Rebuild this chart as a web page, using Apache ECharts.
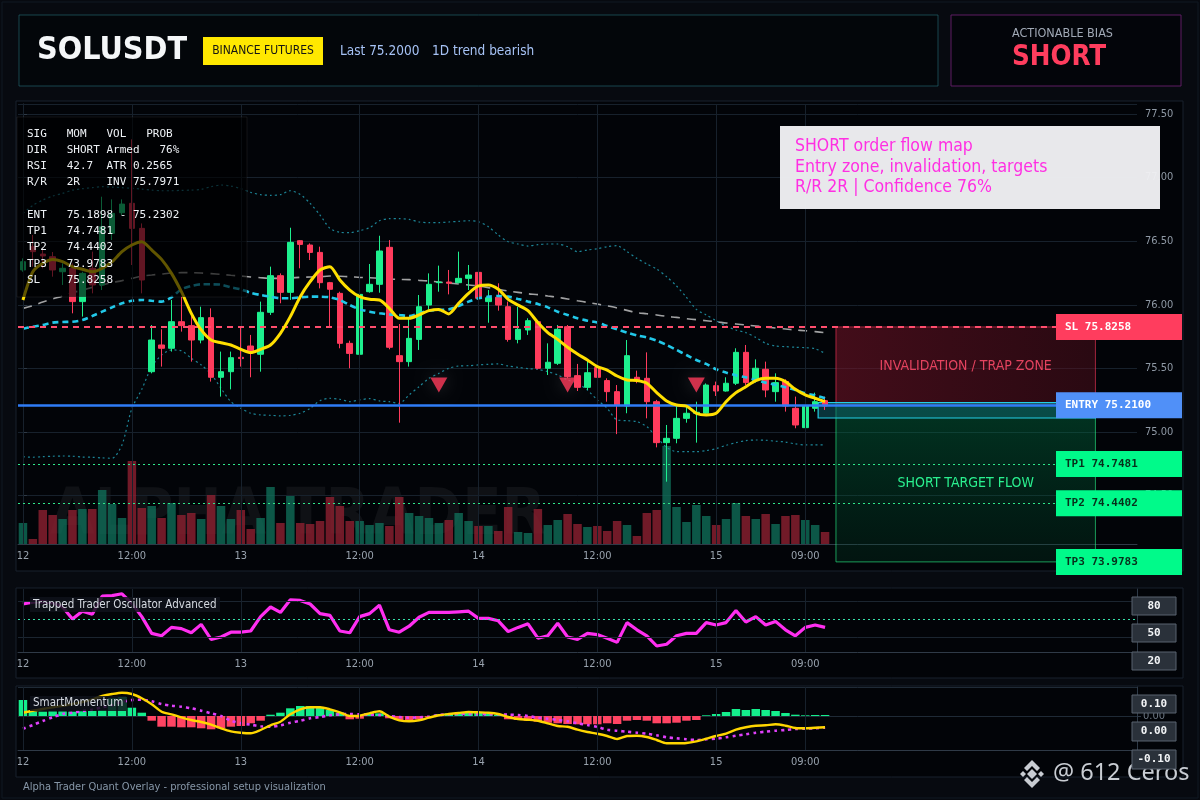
<!DOCTYPE html>
<html>
<head>
<meta charset="utf-8">
<title>SOLUSDT</title>
<script src="https://cdn.jsdelivr.net/npm/echarts@6/dist/echarts.min.js"></script>
<style>
    html, body { margin: 0; padding: 0; background: #070a10; }
    #main { width: 1200px; height: 800px; }
</style>
</head>
<body>
<div id="main"></div>
<script>
// ---- data (1h bars, SOLUSDT) ----
var slotCount = 113;   // visible bar slots on the time axis
var tickIdx  = [0, 11, 22, 34, 46, 58, 70, 79];
var tickText = ['12', '12:00', '13', '12:00', '14', '12:00', '15', '09:00'];

// [open, close, low, high]
var candles = [
    [76.274,76.339,76.260,76.365],[76.457,76.418,76.300,76.549],[76.399,76.384,76.287,76.444],[76.378,76.274,76.221,76.415],
    [76.260,76.287,76.156,76.326],[76.287,76.025,75.933,76.326],[76.025,76.247,75.907,76.260],[76.287,76.156,76.090,76.418],
    [76.156,76.614,76.116,76.850],[76.562,76.719,76.509,76.829],[76.724,76.792,76.706,76.829],[76.798,76.601,76.313,77.301],
    [76.601,76.195,76.090,76.640],[75.474,75.723,75.461,75.841],[75.684,75.658,75.514,75.807],[75.658,75.867,75.632,76.038],
    [75.867,75.836,75.789,76.064],[75.836,75.723,75.553,75.933],[75.723,75.899,75.697,75.985],[75.899,75.430,75.396,75.972],
    [75.430,75.474,75.278,75.632],[75.474,75.584,75.335,75.632],[75.587,75.577,75.514,75.828],[75.676,75.624,75.430,75.763],
    [75.611,75.941,75.474,76.025],[75.941,76.229,75.920,76.300],[76.229,76.098,76.012,76.247],[76.098,76.491,76.038,76.606],
    [76.504,76.475,76.287,76.509],[76.470,76.412,76.352,76.483],[76.412,76.174,76.129,76.457],[76.174,76.122,75.828,76.180],
    [76.090,75.697,75.658,76.103],[75.697,75.618,75.501,75.718],[75.611,76.082,75.587,76.098],[76.103,76.161,76.095,76.321],
    [76.161,76.423,76.095,76.543],[76.452,75.666,75.650,76.509],[75.600,75.553,75.073,75.849],[75.553,75.736,75.514,75.894],
    [75.728,75.985,75.645,76.077],[75.998,76.161,75.964,76.247],[76.174,76.179,76.103,76.308],[76.179,76.169,76.082,76.274],
    [76.174,76.208,76.169,76.418],[76.208,76.234,76.116,76.313],[76.255,76.051,75.946,76.287],[76.025,76.056,75.859,76.116],
    [76.059,75.998,75.954,76.169],[75.985,75.728,75.710,76.025],[75.728,75.807,75.697,75.985],[75.802,75.875,75.763,75.894],
    [75.867,75.501,75.493,75.880],[75.501,75.548,75.448,75.697],[75.540,75.807,75.527,75.841],[75.828,75.435,75.422,75.841],
    [75.443,75.351,75.322,75.535],[75.351,75.466,75.330,75.566],[75.506,75.430,75.291,75.540],[75.404,75.317,75.238,75.422],
    [75.317,75.212,74.983,75.369],[75.204,75.600,75.147,75.723],[75.430,75.409,75.383,75.482],[75.422,75.238,75.107,75.626],
    [75.238,74.916,74.879,75.252],[74.916,74.950,74.609,75.055],[74.950,75.107,74.911,75.204],[75.107,75.147,75.073,75.204],
    [75.147,75.155,74.916,75.238],[75.147,75.369,75.134,75.382],[75.364,75.322,75.283,75.396],[75.322,75.383,75.317,75.430],
    [75.383,75.626,75.369,75.658],[75.626,75.388,75.369,75.684],[75.404,75.501,75.388,75.571],[75.493,75.330,75.273,75.553],
    [75.317,75.388,75.238,75.461],[75.396,75.204,75.160,75.414],[75.186,75.055,75.029,75.278],[75.034,75.204,74.995,75.231],
    [75.186,75.238,75.160,75.309],[75.246,75.204,75.173,75.278]
];

// volume, K SOL
var volumes = [21,5,34,29,25,34,35,35,54,40,26,83,36,38,26,41,29,31,25,49,38,25,34,15,26,57,21,48,21,20,23,47,38,23,23,19,21,18,47,31,28,
               26,21,24,31,23,18,18,13,37,12,11,35,19,24,30,20,17,18,13,23,19,8,31,34,98,37,22,39,28,19,25,41,28,25,30,20,28,29,24,19,12];

var fastEma = [76.038,76.260,76.326,76.357,76.339,76.300,76.279,76.260,76.287,76.339,
               76.418,76.470,76.496,76.431,76.357,76.247,76.103,75.933,75.802,75.723,
               75.702,75.684,75.650,75.624,75.650,75.684,75.776,75.907,76.064,76.182,
               76.274,76.300,76.195,76.116,76.064,76.043,76.038,75.972,75.894,75.894,
               75.920,75.954,75.964,75.928,76.012,76.090,76.148,76.156,76.122,76.043,
               75.998,75.954,75.860,75.781,75.728,75.666,75.613,75.566,75.514,75.487,
               75.440,75.409,75.404,75.383,75.309,75.244,75.212,75.204,75.147,75.134,
               75.147,75.238,75.309,75.356,75.404,75.422,75.422,75.396,75.335,75.291,
               75.265,75.238];

var midEma = [75.812,75.828,75.841,75.860,75.865,75.867,75.880,75.912,75.946,75.980,
              76.012,76.032,76.038,76.032,76.025,76.059,76.122,76.148,76.161,76.161,
              76.158,76.137,76.122,76.095,76.077,76.064,76.051,76.051,76.059,76.064,
              76.064,76.059,76.038,75.998,75.964,75.946,75.933,75.925,75.920,75.912,
              75.933,75.954,75.959,75.964,75.990,76.025,76.051,76.064,76.069,76.064,
              76.046,76.025,76.006,75.980,75.946,75.920,75.894,75.875,75.860,75.833,
              75.807,75.781,75.760,75.744,75.718,75.684,75.645,75.605,75.566,75.535,
              75.493,75.467,75.445,75.430,75.409,75.388,75.370,75.351,75.330,75.304,
              75.288,75.265];

var slowEma = [75.972,75.993,76.022,76.046,76.069,76.095,76.116,76.137,76.156,76.174,
               76.190,76.208,76.226,76.234,76.242,76.250,76.253,76.253,76.250,76.245,
               76.239,76.232,76.226,76.219,76.213,76.208,76.208,76.211,76.216,76.219,
               76.221,76.226,76.224,76.221,76.216,76.213,76.208,76.203,76.200,76.198,
               76.192,76.187,76.179,76.171,76.163,76.156,76.148,76.135,76.122,76.108,
               76.098,76.087,76.080,76.069,76.059,76.046,76.032,76.019,76.006,75.991,
               75.975,75.956,75.938,75.930,75.920,75.909,75.901,75.891,75.883,75.875,
               75.867,75.857,75.849,75.841,75.833,75.825,75.817,75.810,75.802,75.796,
               75.789,75.781];

var bbUpper = [76.719,76.782,76.824,76.855,76.876,76.902,76.913,76.921,76.929,76.926,
               76.921,76.916,76.910,76.902,76.897,76.897,76.900,76.902,76.908,76.929,
               76.942,76.934,76.913,76.884,76.866,76.861,76.866,76.897,76.868,76.798,
               76.706,76.601,76.570,76.567,76.583,76.606,76.661,76.677,76.677,76.672,
               76.651,76.646,76.646,76.651,76.656,76.661,76.653,76.614,76.549,76.496,
               76.478,76.462,76.473,76.478,76.478,76.457,76.418,76.431,76.441,76.457,
               76.465,76.418,76.365,76.321,76.281,76.221,76.148,76.059,75.964,75.920,
               75.875,75.833,75.802,75.781,75.744,75.697,75.676,75.671,75.666,75.663,
               75.655,75.618];

var bbLower = [74.806,74.801,74.806,74.809,74.811,74.809,74.803,74.801,74.796,74.793,
               74.898,75.186,75.335,75.514,75.605,75.645,75.639,75.579,75.527,75.456,
               75.343,75.238,75.186,75.147,75.134,75.131,75.126,75.131,75.147,75.186,
               75.246,75.265,75.257,75.238,75.252,75.262,75.244,75.238,75.225,75.291,
               75.356,75.422,75.461,75.501,75.519,75.521,75.527,75.532,75.535,75.519,
               75.508,75.498,75.493,75.474,75.448,75.409,75.383,75.330,75.252,75.186,
               75.094,75.089,75.081,75.042,74.958,74.879,74.845,74.845,74.845,74.853,
               74.869,74.895,74.916,74.932,74.937,74.935,74.927,74.921,74.906,74.898,
               74.898,74.898];

var sellSignals = [[42, 75.37], [55, 75.37], [68, 75.37]];

var levels = [
    { name: 'SL',    price: 75.8258 },
    { name: 'ENTRY', price: 75.2100 },
    { name: 'TP1',   price: 74.7481 },
    { name: 'TP2',   price: 74.4402 },
    { name: 'TP3',   price: 73.9783 }
];
var entryBox = [75.2302, 75.1100];

var oscValues = [75,78,79,77,70,50,63,58,88,89,
                 92,76,54,26,22,36,34,27,41,16,
                 20,28,28,30,54,70,61,82,81,75,
                 59,56,30,27,54,59,73,32,28,38,
                 53,61,61,61,62,63,51,51,47,29,
                 36,42,18,22,43,20,16,26,24,18,
                 11,44,32,22,5,8,22,26,26,44,
                 40,44,64,45,54,40,46,32,22,36,
                 40,36];

var momHist = [0.16,0.043,0.043,0.045,0.045,0.043,0.047,0.05,0.06,0.18,
               0.19,0.083,0.033,-0.047,-0.107,-0.107,-0.113,-0.113,-0.123,-0.133,
               -0.123,-0.107,-0.1,-0.073,-0.047,0.013,0.033,0.077,0.1,0.1,
               0.087,0.06,0.033,-0.033,-0.027,0.027,0.027,-0.023,-0.04,-0.047,
               -0.033,-0.013,0.017,0.027,0.033,0.04,0.037,0.027,0.013,-0.033,
               -0.04,-0.047,-0.057,-0.067,-0.073,-0.08,-0.083,-0.083,-0.083,-0.073,
               -0.08,-0.047,-0.04,-0.047,-0.073,-0.073,-0.067,-0.047,-0.04,0.007,
               0.02,0.04,0.07,0.06,0.07,0.06,0.05,0.03,0.013,0.007,
               0.01,0.01];

var momFast = [0.033,0.053,0.07,0.087,0.103,0.12,0.14,0.167,0.2,0.22,
               0.233,0.22,0.177,0.117,0.043,0.017,-0.013,-0.04,-0.06,-0.087,
               -0.123,-0.153,-0.167,-0.173,-0.14,-0.093,-0.057,0.017,0.067,0.087,
               0.087,0.067,0.037,0,0.003,0.027,0.047,-0.007,-0.043,-0.053,
               -0.043,-0.017,0.007,0.02,0.03,0.04,0.037,0.033,0.02,-0.01,
               -0.03,-0.037,-0.047,-0.073,-0.1,-0.107,-0.137,-0.16,-0.177,-0.2,
               -0.23,-0.2,-0.197,-0.21,-0.24,-0.273,-0.273,-0.27,-0.253,-0.227,
               -0.2,-0.177,-0.137,-0.113,-0.097,-0.093,-0.083,-0.097,-0.12,-0.123,
               -0.117,-0.113];

var momSignal = [-0.127,-0.09,-0.05,-0.013,0.02,0.033,0.05,0.063,0.087,0.107,
                 0.14,0.16,0.163,0.147,0.12,0.103,0.093,0.077,0.053,0.027,
                 0,-0.047,-0.073,-0.087,-0.103,-0.107,-0.093,-0.067,-0.047,-0.023,
                 -0.01,0.007,0.017,0.02,0.017,0.013,0.01,0,-0.01,-0.017,
                 -0.013,-0.007,0.01,0.017,0.02,0.02,0.017,0.017,0.017,0.013,
                 0.01,0,-0.017,-0.027,-0.04,-0.053,-0.073,-0.09,-0.11,-0.137,
                 -0.147,-0.157,-0.167,-0.177,-0.193,-0.213,-0.223,-0.233,-0.24,-0.233,
                 -0.227,-0.213,-0.197,-0.183,-0.167,-0.157,-0.147,-0.14,-0.13,-0.127,
                 -0.123,-0.117];

// ---- styling ----
var FONT = 'DejaVu Sans Condensed, DejaVu Sans, sans-serif';
var MONO = 'DejaVu Sans Mono, monospace';
var upColor = '#1df08e', downColor = '#ff3b5c';
var gridLine = '#17212c', axisCol = '#2f3a47', labelCol = '#98a2ad';

var myChart = echarts.init(document.getElementById('main'), null, { renderer: 'canvas' });

var slots = [];
for (var i = 0; i < slotCount; i++) slots.push('b' + i);
var tickMap = {};
tickIdx.forEach(function (idx, k) { tickMap[idx] = tickText[k]; });
function isTick(index) { return tickMap[index] !== undefined; }

function timeAxis(gridIndex) {
    return {
        type: 'category', gridIndex: gridIndex, data: slots, boundaryGap: true,
        axisLine: { onZero: false, lineStyle: { color: axisCol } },
        axisTick: { alignWithLabel: true, interval: isTick, length: 4, lineStyle: { color: axisCol } },
        axisLabel: {
            interval: isTick, color: labelCol, fontSize: 11, fontFamily: FONT, margin: 7,
            formatter: function (v, idx) { return tickMap[idx] || ''; }
        },
        splitLine: { show: false }
    };
}
var vLines = tickIdx.map(function (i) { return { xAxis: i }; });

var volData = volumes.map(function (v, i) {
    var up = candles[i][1] >= candles[i][0];
    return { value: v, itemStyle: { color: up ? 'rgba(16,112,90,0.78)' : 'rgba(138,32,48,0.82)' } };
});
var histData = momHist.map(function (v) {
    return { value: v, itemStyle: { color: v >= 0 ? '#14ee8c' : '#ff4463' } };
});

var levelStyle = {
    SL:    { fill: '#ff3d5e', text: '#ffffff' },
    ENTRY: { fill: '#5090f8', text: '#ffffff' },
    TP1:   { fill: '#00fa8a', text: '#07301b' },
    TP2:   { fill: '#00fa8a', text: '#07301b' },
    TP3:   { fill: '#00fa8a', text: '#07301b' }
};

// zone spans in bar units
var zoneX0 = 82.1, zoneX1 = 108.3, entryX0 = 80.3;
var zones = [
    [zoneX0, levels[1].price, zoneX1, levels[4].price, 0],
    [zoneX0, levels[0].price, zoneX1, levels[1].price, 1],
    [entryX0, entryBox[0], zoneX1, entryBox[1], 2]
];

function renderZone(params, api) {
    var p0 = api.coord([api.value(0), api.value(1)]);
    var p1 = api.coord([api.value(2), api.value(3)]);
    var kind = api.value(4);
    var rect = { x: p0[0], y: p0[1], width: p1[0] - p0[0], height: p1[1] - p0[1] };
    var cx = rect.x + rect.width / 2, cy = rect.y + rect.height / 2;
    if (kind === 0) {
        return { type: 'group', children: [
            { type: 'rect', shape: rect, style: {
                fill: new echarts.graphic.LinearGradient(0, 0, 0, 1, [
                    { offset: 0, color: 'rgba(0,120,70,0.42)' }, { offset: 1, color: 'rgba(0,80,45,0.22)' }]),
                stroke: 'rgba(40,230,130,0.65)', lineWidth: 1 } },
            { type: 'text', x: cx, y: cy, style: { text: 'SHORT TARGET FLOW', fill: '#2af08f',
                font: '14px ' + FONT, align: 'center', verticalAlign: 'middle',
                textAlign: 'center', textVerticalAlign: 'middle' } }
        ] };
    }
    if (kind === 1) {
        return { type: 'group', children: [
            { type: 'rect', shape: rect, style: {
                fill: new echarts.graphic.LinearGradient(0, 0, 1, 0, [
                    { offset: 0, color: 'rgba(120,20,40,0.55)' }, { offset: 1, color: 'rgba(90,15,30,0.45)' }]),
                stroke: 'rgba(255,59,92,0.6)', lineWidth: 1 } },
            { type: 'text', x: cx, y: cy, style: { text: 'INVALIDATION / TRAP ZONE', fill: '#e4435f',
                font: '14px ' + FONT, align: 'center', verticalAlign: 'middle',
                textAlign: 'center', textVerticalAlign: 'middle' } }
        ] };
    }
    return { type: 'rect', shape: rect, style: { fill: 'rgba(16,100,110,0.5)', stroke: '#22cfe8', lineWidth: 1.2 } };
}

function renderLevel(params, api) {
    var y = api.coord([0, api.value(1)])[1];
    var lv = levels[api.value(2)];
    var st = levelStyle[lv.name];
    var cs = params.coordSys;
    var x = cs.x + cs.width - 81;
    return { type: 'group', children: [
        { type: 'rect', shape: { x: x, y: y - 13, width: 126, height: 26 }, style: { fill: st.fill } },
        { type: 'text', x: x + 9, y: y, style: { text: lv.name + ' ' + lv.price.toFixed(4), fill: st.text,
            font: 'bold 11px ' + MONO, verticalAlign: 'middle', textVerticalAlign: 'middle' } }
    ] };
}

function txt(x, y, text, size, color, opts) {
    opts = opts || {};
    return {
        type: 'text', x: x, y: y, z: opts.z || 100,
        style: {
            text: text, fill: color,
            font: (opts.weight || 'normal') + ' ' + size + 'px ' + (opts.family || FONT),
            align: opts.align || 'left', textAlign: opts.align || 'left',
            verticalAlign: 'middle', textVerticalAlign: 'middle',
            lineHeight: opts.lineHeight, shadowBlur: opts.shadowBlur || 0, shadowColor: opts.shadowColor
        }
    };
}
function box(x, y, w, h, fill, stroke, z) {
    return { type: 'rect', z: z === undefined ? 100 : z, shape: { x: x, y: y, width: w, height: h },
             style: { fill: fill, stroke: stroke || null, lineWidth: 1 } };
}
function valueTag(y, h, text) {
    return [box(1132, y, 44, h, '#2a313a', '#59636f'),
            txt(1154, y + h / 2, text, 11, '#f2f4f6', { family: MONO, weight: 'bold', align: 'center', z: 101 })];
}
function poly(points) {
    return { type: 'polygon', z: 100, shape: { points: points }, style: { fill: '#c8ccd2' } };
}

var infoText = [
    'SIG   MOM   VOL   PROB',
    'DIR   SHORT Armed   76%',
    'RSI   42.7  ATR 0.2565',
    'R/R   2R    INV 75.7971',
    '',
    'ENT   75.1898 - 75.2302',
    'TP1   74.7481',
    'TP2   74.4402',
    'TP3   73.9783',
    'SL    75.8258'
].join('\n');

var graphics = [
    box(2, 2, 1196, 796, null, '#111822', -10),
    box(19, 15, 919, 71, '#03060a', 'rgba(38,110,122,0.6)', -5),
    box(951, 15, 230, 71, '#03050a', '#5e1d63', -5),
    box(16, 101, 1167, 470, '#020408', '#18212c', -5),
    box(16, 588, 1167, 90, '#020408', '#18212c', -5),
    box(16, 686, 1167, 91, '#020408', '#18212c', -5),
    txt(50, 517, 'ALPHA TRADER', 64, 'rgba(255,255,255,0.055)', { weight: 'bold', z: -1 }),

    txt(37, 51, 'SOLUSDT', 32, '#f4f6f8', { weight: 'bold', shadowBlur: 10, shadowColor: 'rgba(80,160,170,0.35)' }),
    box(203, 37, 120, 28, '#ffe800'),
    txt(263, 51, 'BINANCE FUTURES', 12, '#141414', { align: 'center', z: 101 }),
    txt(340, 51, 'Last 75.2000', 13.5, '#a6c2f5'),
    txt(432, 51, '1D trend bearish', 13.5, '#a6c2f5'),
    txt(1012, 34, 'ACTIONABLE BIAS', 12.5, '#a1a9b6'),
    txt(1012, 58, 'SHORT', 27.5, '#ff3d5e', { weight: 'bold', shadowBlur: 14, shadowColor: 'rgba(255,50,90,0.45)' }),

    box(17, 117, 230, 180, 'rgba(0,0,0,0.62)', 'rgba(255,255,255,0.07)'),
    {
        type: 'text', x: 27, y: 125.6, z: 101,
        style: { text: infoText, fill: '#eef2f6', font: '11px ' + MONO, lineHeight: 16.25,
                 verticalAlign: 'top', textVerticalAlign: 'top' }
    },

    box(780, 126, 380, 83, 'rgba(240,240,243,0.97)'),
    {
        type: 'text', x: 795, y: 136.7, z: 101,
        style: { text: 'SHORT order flow map\nEntry zone, invalidation, targets\nR/R 2R | Confidence 76%',
                 fill: '#ff2fe3', font: '17.5px ' + FONT, lineHeight: 20.5,
                 verticalAlign: 'top', textVerticalAlign: 'top' }
    },

    box(30, 597, 190, 15, 'rgba(14,18,26,0.85)'),
    txt(33, 605, 'Trapped Trader Oscillator Advanced', 11.5, '#d5dae1', { z: 101 }),
    box(30, 696, 96, 15, 'rgba(14,18,26,0.85)'),
    txt(33, 703.5, 'SmartMomentum', 11.5, '#d5dae1', { z: 101 }),

    txt(23, 787, 'Alpha Trader Quant Overlay - professional setup visualization', 11, '#8797a8'),

    poly([[1032, 769], [1037, 774], [1032, 779], [1027, 774]]),
    poly([[1023, 771], [1026, 774], [1023, 777], [1020, 774]]),
    poly([[1041, 771], [1044, 774], [1041, 777], [1038, 774]]),
    poly([[1032, 760], [1040, 768], [1037, 771], [1032, 766], [1027, 771], [1024, 768]]),
    poly([[1032, 788], [1040, 780], [1037, 777], [1032, 782], [1027, 777], [1024, 780]]),
    txt(1053, 773, '@ 612 Ceros', 23.5, '#c9cdd3', { family: 'Noto Sans, sans-serif' })
];
graphics = graphics
    .concat(valueTag(597, 18, '80')).concat(valueTag(624, 18, '50')).concat(valueTag(652, 18, '20'))
    .concat(valueTag(695, 18, '0.10')).concat(valueTag(722, 19, '0.00')).concat(valueTag(750, 19, '-0.10'));

function lineSeries(data, color, width, type, xi, yi, z) {
    return {
        type: 'line', data: data, xAxisIndex: xi, yAxisIndex: yi, symbol: 'none', z: z || 2,
        smooth: 0.25, lineStyle: { color: color, width: width, type: type || 'solid' }, silent: true
    };
}

var option = {
    backgroundColor: '#070a10',
    animation: false,
    grid: [
        { left: 18, top: 104, width: 1119, height: 440, containLabel: false, outerBoundsMode: 'none' },
        { left: 18, top: 589, width: 1119, height: 63, containLabel: false, outerBoundsMode: 'none' },
        { left: 18, top: 687, width: 1119, height: 63, containLabel: false, outerBoundsMode: 'none' }
    ],
    xAxis: [
        timeAxis(0), timeAxis(1), timeAxis(2),
        { type: 'value', gridIndex: 0, min: -0.5, max: slotCount - 0.5, show: false }
    ],
    yAxis: [
        {
            type: 'value', gridIndex: 0, position: 'right', min: 74.119, max: 77.579, splitNumber: 7,
            minInterval: 0.5, maxInterval: 0.5,
            axisLine: { show: true, lineStyle: { color: axisCol } },
            axisTick: { show: true, length: 4, lineStyle: { color: axisCol } },
            axisLabel: { color: '#8f99a5', fontSize: 11, fontFamily: FONT, margin: 8, showMinLabel: false, showMaxLabel: false,
                         formatter: function (v) { return v.toFixed(2); } },
            splitLine: { lineStyle: { color: gridLine } }
        },
        { type: 'value', gridIndex: 0, min: 0, max: 440, show: false },
        {
            type: 'value', gridIndex: 1, position: 'right', min: -5, max: 100,
            axisLine: { show: true, lineStyle: { color: axisCol } },
            axisTick: { show: false }, axisLabel: { show: false }, splitLine: { show: false }
        },
        {
            type: 'value', gridIndex: 2, position: 'right', min: -0.34, max: 0.29, interval: 0.34,
            axisLine: { show: true, lineStyle: { color: axisCol } },
            axisTick: { show: true, length: 4, lineStyle: { color: axisCol } },
            axisLabel: { color: '#6f7a86', fontSize: 11, fontFamily: FONT, margin: 6, showMinLabel: false, showMaxLabel: false,
                         formatter: function (v) { return (Math.abs(v) < 1e-9 ? 0 : v).toFixed(2); } },
            splitLine: { lineStyle: { color: '#1f2a36' } }
        }
    ],
    graphic: graphics,
    series: [
        {
            type: 'bar', name: 'Volume', data: volData, xAxisIndex: 0, yAxisIndex: 1, barWidth: 8.5, z: 1, silent: true,
            markLine: { silent: true, symbol: ['none', 'none'], label: { show: false },
                        lineStyle: { color: gridLine, width: 1, type: 'solid' }, data: vLines }
        },
        lineSeries(bbUpper, '#1d8597', 1.2, [2, 3], 0, 0),
        lineSeries(bbLower, '#1d8597', 1.2, [2, 3], 0, 0),
        lineSeries(slowEma, 'rgba(215,215,215,0.75)', 1.6, [9, 7], 0, 0),
        {
            type: 'candlestick', name: 'SOLUSDT', data: candles, xAxisIndex: 0, yAxisIndex: 0, barWidth: 6, z: 3,
            itemStyle: { color: upColor, color0: downColor, borderColor: upColor, borderColor0: downColor, borderWidth: 1 },
            markLine: {
                silent: true, symbol: ['none', 'none'], label: { show: false },
                data: [
                    { yAxis: levels[0].price, lineStyle: { color: '#ff4d6d', width: 2, type: [6, 5] } },
                    { yAxis: levels[1].price, lineStyle: { color: '#2f7cf6', width: 2.5, type: 'solid' } },
                    { yAxis: levels[2].price, lineStyle: { color: '#2ee68a', width: 1.2, type: [2, 3] } },
                    { yAxis: levels[3].price, lineStyle: { color: '#2ee68a', width: 1.2, type: [2, 3] } }
                ]
            }
        },
        lineSeries(midEma, '#22c8e8', 2.6, [6, 4], 0, 0, 4),
        lineSeries(fastEma, '#ffdf00', 3, 'solid', 0, 0, 5),
        {
            type: 'scatter', data: sellSignals, xAxisIndex: 0, yAxisIndex: 0, z: 6, silent: true,
            symbol: 'triangle', symbolRotate: 180, symbolSize: [17, 15],
            itemStyle: { color: '#ff3a5a', shadowBlur: 16, shadowColor: 'rgba(190,190,190,0.28)' }
        },
        {
            type: 'custom', data: zones, xAxisIndex: 3, yAxisIndex: 0, renderItem: renderZone, z: 1, clip: false, silent: true
        },
        {
            type: 'custom', data: levels.map(function (l, k) { return [0, l.price, k]; }),
            xAxisIndex: 3, yAxisIndex: 0, renderItem: renderLevel, z: 10, clip: false, silent: true
        },
        {
            type: 'line', data: oscValues, xAxisIndex: 1, yAxisIndex: 2, symbol: 'none', z: 3, silent: true,
            lineStyle: { color: '#ff2ef0', width: 3.2 },
            markLine: {
                silent: true, symbol: ['none', 'none'], label: { show: false },
                lineStyle: { color: gridLine, width: 1, type: 'solid' },
                data: [
                    { yAxis: 80, lineStyle: { color: '#1b2530', width: 1, type: 'solid' } },
                    { yAxis: 20, lineStyle: { color: '#1b2530', width: 1, type: 'solid' } },
                    { yAxis: 50, lineStyle: { color: '#35e0a8', width: 1, type: [2, 3] } }
                ].concat(vLines)
            }
        },
        {
            type: 'bar', data: histData, xAxisIndex: 2, yAxisIndex: 3, barWidth: 8.5, z: 2, silent: true,
            markLine: { silent: true, symbol: ['none', 'none'], label: { show: false },
                        lineStyle: { color: gridLine, width: 1, type: 'solid' }, data: vLines }
        },
        lineSeries(momSignal, '#e040fb', 2.6, [3, 4], 2, 3, 3),
        lineSeries(momFast, '#ffd600', 2.4, 'solid', 2, 3, 4)
    ]
};
myChart.setOption(option);
</script>
</body>
</html>
